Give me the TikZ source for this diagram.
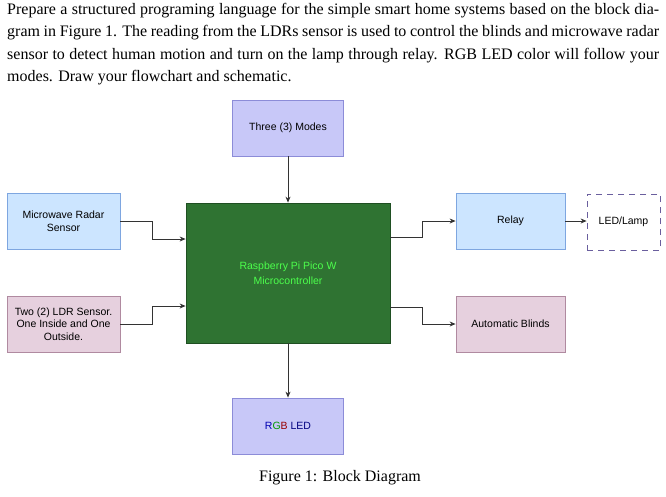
\documentclass[tikz,border=0pt]{standalone}
\usepackage{fontspec}
\setmainfont{Liberation Serif}
\newfontfamily\boxfont{Liberation Sans}
\usetikzlibrary{arrows.meta}
\definecolor{bluef}{HTML}{CCE5FF}\definecolor{blued}{HTML}{7EA6E0}
\definecolor{pinkf}{HTML}{E6D0DE}\definecolor{pinkd}{HTML}{B08AA0}
\definecolor{lavf}{HTML}{C8C8F8}\definecolor{lavd}{HTML}{8C8CD8}
\definecolor{greenf}{HTML}{2F7332}\definecolor{greend}{HTML}{1F4F22}
\definecolor{dashc}{HTML}{6A5F9E}
\begin{document}
\begin{tikzpicture}[x=1pt,y=-1pt,
 box/.style={draw,line width=0.8pt,font=\boxfont\fontsize{10.5}{12.5}\selectfont,align=center,inner sep=0pt},
 arr/.style={-{Stealth[length=6pt,width=5pt]},line width=0.8pt,black!80}]
\useasboundingbox (0,0) rectangle (666,496);
\node[anchor=north west,text width=652pt,align=justify,inner sep=0pt,font=\fontsize{16}{22.5}\selectfont] (para) at (7,3)
{Prepare a structured programing language for the simple smart home systems based on the block diagram in Figure 1. The reading from the LDRs sensor is used to control the blinds and microwave radar sensor to detect human motion and turn on the lamp through relay. RGB LED color will follow your modes. Draw your flowchart and schematic.};
\node[box,fill=lavf,draw=lavd,minimum width=111pt,minimum height=56pt] (modes) at (288,128) {Three (3) Modes};
\node[box,fill=greenf,draw=greend,minimum width=204pt,minimum height=140pt,text=green!70!white] (pico) at (288,273) {Raspberry Pi Pico W\\[2pt]Microcontroller};
\node[box,fill=bluef,draw=blued,minimum width=113pt,minimum height=56pt] (radar) at (63.5,221) {Microwave Radar\\Sensor};
\node[box,fill=pinkf,draw=pinkd,minimum width=113pt,minimum height=56pt] (ldr) at (63.5,324) {Two (2) LDR Sensor.\\One Inside and One\\Outside.};
\node[box,fill=bluef,draw=blued,minimum width=109pt,minimum height=56pt] (relay) at (510.5,221) {Relay};
\node[box,draw=dashc,dash pattern=on 6pt off 5pt,minimum width=73pt,minimum height=56pt] (lamp) at (623.5,222) {LED/Lamp};
\node[box,fill=pinkf,draw=pinkd,minimum width=109pt,minimum height=56pt] (blinds) at (510.5,324) {Automatic Blinds};
\node[box,fill=lavf,draw=lavd,minimum width=111pt,minimum height=56pt] (rgb) at (288,426) {\textcolor{blue!70!black}{R}\textcolor{green!60!black}{G}\textcolor{red!60!black}{B} \textcolor{blue!50!black}{LED}};
\node[font=\fontsize{16}{18}\selectfont] (cap) at (340,478) {Figure 1: Block Diagram};
\draw[arr] (modes) -- (pico);
\draw[arr] (pico) -- (rgb);
\draw[arr] (radar.east) -- (152,221) |- (pico.west|-0,239);
\draw[arr] (ldr.east) -- (152,324) |- (pico.west|-0,306);
\draw[arr] (pico.east|-0,237) -- (422,237) |- (relay.west);
\draw[arr] (pico.east|-0,307) -- (422,307) |- (blinds.west);
\draw[arr] (relay.east) -- (lamp.west|-relay.east);
\end{tikzpicture}
\end{document}
